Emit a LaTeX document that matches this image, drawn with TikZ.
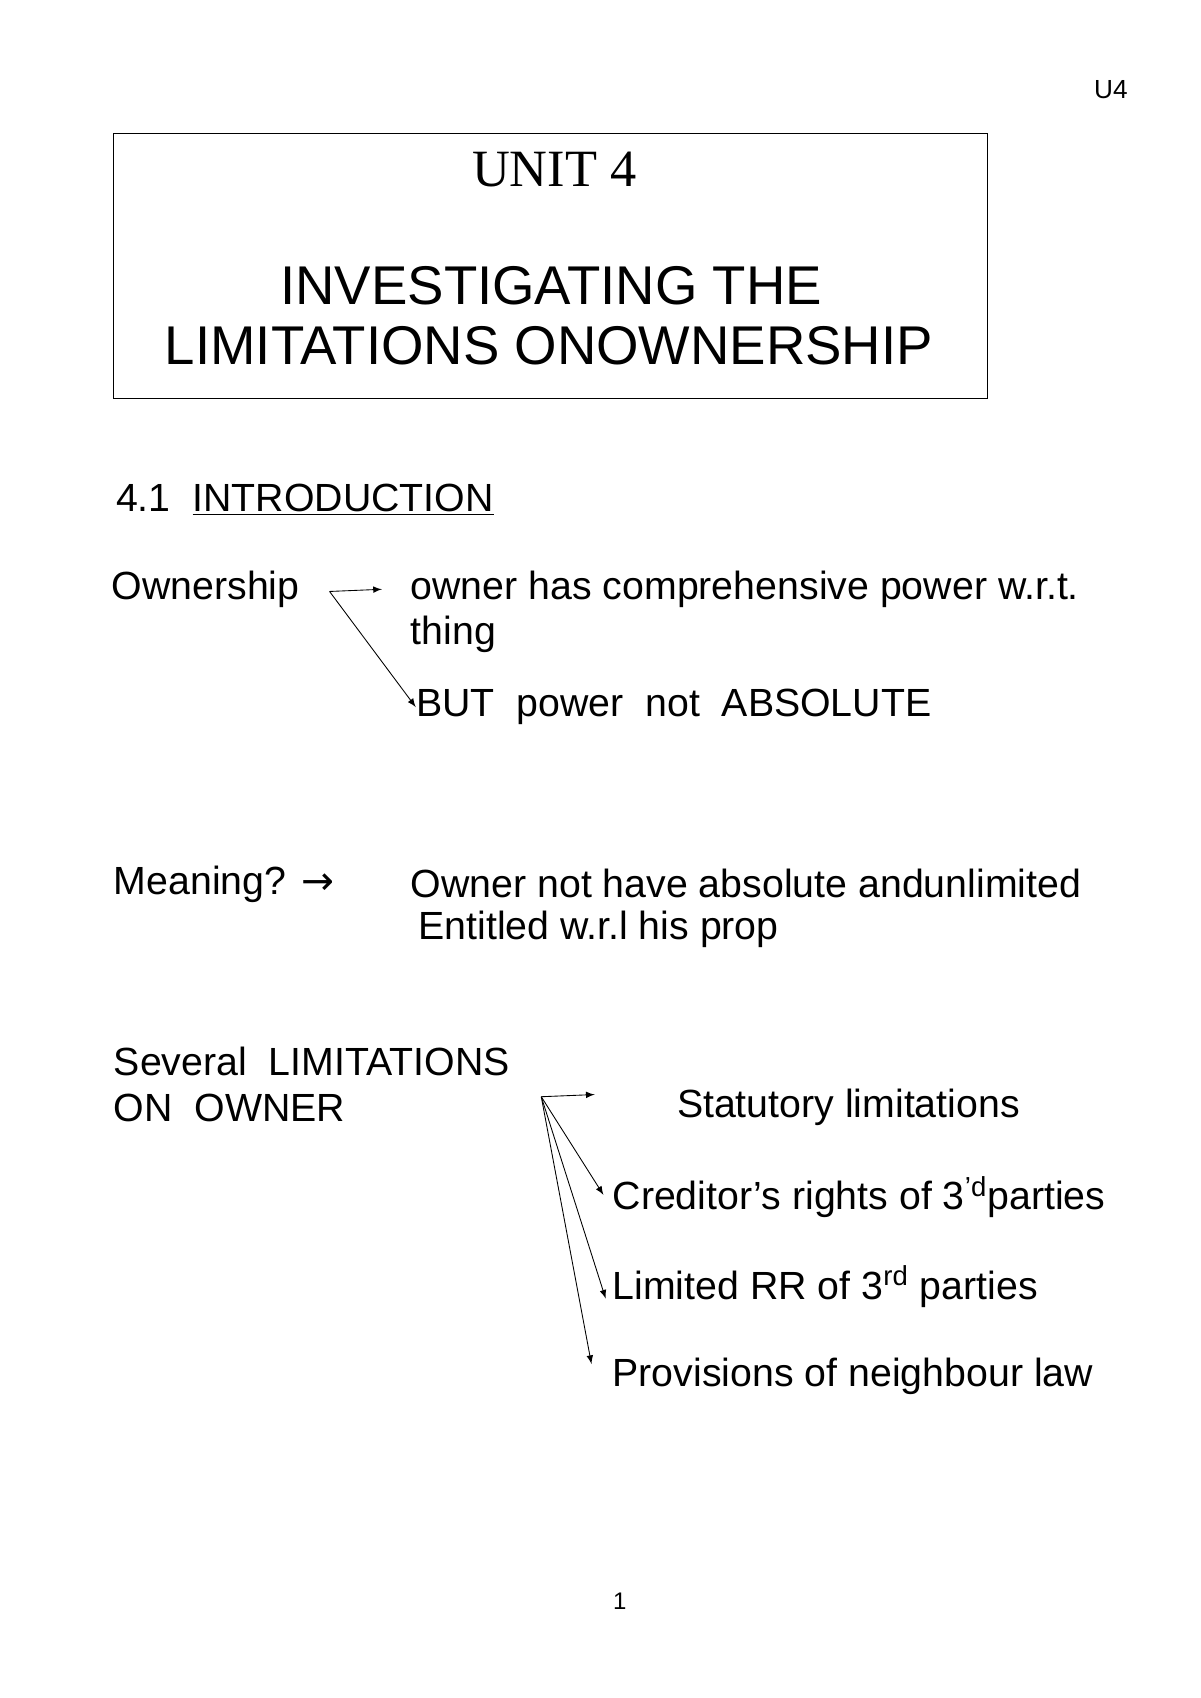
\documentclass[tikz,border=0pt]{standalone}
\usepackage{fontspec}
\setmainfont{Liberation Sans}
\newfontfamily\titlefont{Liberation Serif}
\newfontfamily\symfont{DejaVu Sans}
\begin{document}
\begin{tikzpicture}[x=0.5pt,y=-0.5pt,
  txt/.style={anchor=west,inner sep=0pt,font=\fontsize{18}{22}\selectfont},
  arr/.style={-latex,thin}]
\useasboundingbox (0,0) rectangle (1100,1556);
\node[anchor=center,font=\fontsize{12}{14}\selectfont] (u4) at (1018,82) {U4};
\draw[thin] (104,122) rectangle (905,365);
\node[font=\titlefont\fontsize{24}{28}\selectfont] (unit) at (508,155) {UNIT 4};
\node[font=\fontsize{25}{30}\selectfont] (t1) at (505,262) {INVESTIGATING THE};
\node[font=\fontsize{25}{30}\selectfont] (t2) at (503,317) {LIMITATIONS ONOWNERSHIP};
\node[txt] (intro) at (106,458) {4.1\ \ \underline{INTRODUCTION}};
\node[txt] (own) at (102,540) {Ownership};
\node[txt] (o1) at (376,540) {owner has comprehensive power w.r.t.};
\node[txt] (o2) at (376,581) {thing};
\node[txt] (but) at (381,648) {BUT\ \ power\ \ not\ \ ABSOLUTE};
\coordinate (os) at (302,542);
\draw[arr] (os) -- (350,540);
\draw[arr] (os) -- (but.west);
\node[txt] (mean) at (104,810) {Meaning? {\symfont →}};
\node[txt] (m1) at (376,810) {Owner not have absolute andunlimited};
\node[txt] (m2) at (383,852) {Entitled w.r.l his prop};
\node[txt] (sev) at (104,973) {Several\ \ LIMITATIONS};
\node[txt] (on) at (104,1015) {ON\ \ OWNER};
\node[txt] (stat) at (620,1015) {Statutory limitations};
\node[txt] (cred) at (561,1097) {Creditor’s rights of 3\textsuperscript{’d}parties};
\node[txt] (lim) at (561,1179) {Limited RR of 3\textsuperscript{rd} parties};
\node[txt] (prov) at (561,1261) {Provisions of neighbour law};
\coordinate (ls) at (496,1005);
\draw[arr] (ls) -- (545,1003);
\draw[arr] (ls) -- (553,1095);
\draw[arr] (ls) -- (555,1190);
\draw[arr] (ls) -- (542,1250);
\node[font=\fontsize{11}{13}\selectfont] (pg) at (568,1467) {1};
\end{tikzpicture}
\end{document}
